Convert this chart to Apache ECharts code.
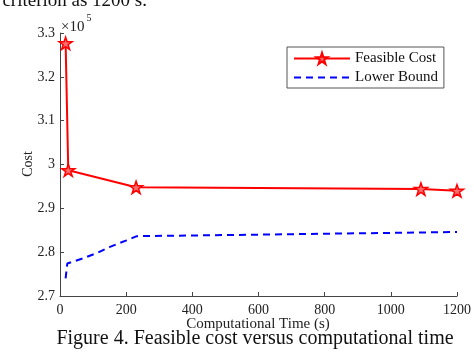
<!DOCTYPE html>
<html>
<head>
<meta charset="utf-8">
<script src="https://cdn.jsdelivr.net/npm/echarts@6/dist/echarts.min.js"></script>
<style>html,body{margin:0;padding:0;background:#fff;}#c{width:474px;height:355px;}</style>
</head>
<body>
<div id="c"></div>
<script>
// Data (cost in absolute units; axis shows x10^5)
const feasibleTime = [17, 25, 230, 1091, 1200];
const feasibleCost = [327650, 298700, 294800, 294400, 294000];
const lowerTime = [17, 22, 70, 111, 151, 201, 232, 600, 1200];
const lowerCost = [274000, 277400, 278600, 279800, 281200, 282700, 283650, 284000, 284600];
const xTicks = [0, 200, 400, 600, 800, 1000, 1200];
const yTicks = [2.7, 2.8, 2.9, 3, 3.1, 3.2, 3.3];

const FONT = '"Liberation Serif", "Times New Roman", serif';
const STAR = 'path://M50 0L61.2 34.5L97.6 34.5L68.2 55.9L79.4 90.5L50 69.1L20.6 90.5L31.8 55.9L2.4 34.5L38.8 34.5Z';

const chart = echarts.init(document.getElementById('c'), null, {renderer: 'canvas'});
chart.setOption({
  backgroundColor: '#fff',
  animation: false,
  grid: {left: 60, top: 33, right: 17, bottom: 59, containLabel: false},
  legend: {
    orient: 'vertical',
    left: 287, top: 47,
    padding: [4, 6, 3, 6],
    itemWidth: 56, itemHeight: 14, itemGap: 4,
    borderColor: '#555', borderWidth: 1, backgroundColor: '#fff',
    textStyle: {fontFamily: FONT, fontSize: 15, color: '#111'},
    data: [
      {name: 'Feasible Cost'},
      {name: 'Lower Bound', itemStyle: {opacity: 0}}
    ]
  },
  xAxis: {
    type: 'value', min: xTicks[0], max: xTicks[xTicks.length - 1], interval: 200,
    axisLine: {show: true, lineStyle: {color: '#444', width: 1}},
    axisTick: {show: true, inside: true, length: 4, lineStyle: {color: '#444'}},
    axisLabel: {fontFamily: FONT, fontSize: 14, color: '#222', margin: 7, formatter: v => String(v)},
    splitLine: {show: false}
  },
  yAxis: {
    type: 'value', min: yTicks[0] * 1e5, max: yTicks[yTicks.length - 1] * 1e5, interval: 10000,
    axisLine: {show: true, lineStyle: {color: '#444', width: 1}},
    axisTick: {show: true, inside: true, length: 4, lineStyle: {color: '#444'}},
    axisLabel: {
      fontFamily: FONT, fontSize: 14, color: '#222', margin: 5,
      formatter: v => String(+(v / 1e5).toFixed(1))
    },
    splitLine: {show: false}
  },
  series: [
    {
      name: 'Feasible Cost', type: 'line',
      data: feasibleTime.map((t, i) => [t, feasibleCost[i]]),
      symbol: STAR, symbolSize: 13, symbolKeepAspect: true,
      lineStyle: {color: '#ff0000', width: 2},
      itemStyle: {color: '#ff7070', borderColor: '#ff0000', borderWidth: 1.5},
      z: 3
    },
    {
      name: 'Lower Bound', type: 'line',
      data: lowerTime.map((t, i) => [t, lowerCost[i]]),
      symbol: 'none', showSymbol: false,
      lineStyle: {color: '#0000ff', width: 2, type: [7, 5]},
      itemStyle: {color: '#0000ff'},
      z: 2
    }
  ],
  graphic: [
    {type: 'text', x: 147, y: 11, style: {text: 'criterion as 1200 s.', font: '19px ' + FONT, fill: '#111', textAlign: 'right', textVerticalAlign: 'bottom'}},
    {type: 'text', x: 61, y: 27, style: {text: '×10', font: '15px ' + FONT, fill: '#222', textAlign: 'left', textVerticalAlign: 'middle'}},
    {type: 'text', x: 86.5, y: 18, style: {text: '5', font: '10px ' + FONT, fill: '#222', textAlign: 'left', textVerticalAlign: 'middle'}},
    {type: 'text', x: 258, y: 324, style: {text: 'Computational Time (s)', font: '15px ' + FONT, fill: '#222', textAlign: 'center', textVerticalAlign: 'middle'}},
    {type: 'text', x: 28, y: 164, rotation: Math.PI / 2, style: {text: 'Cost', font: '14px ' + FONT, fill: '#222', textAlign: 'center', textVerticalAlign: 'middle'}},
    {type: 'text', x: 255, y: 339, style: {text: 'Figure 4. Feasible cost versus computational time', font: '20px ' + FONT, fill: '#111', textAlign: 'center', textVerticalAlign: 'middle'}}
  ]
});
</script>
</body>
</html>
